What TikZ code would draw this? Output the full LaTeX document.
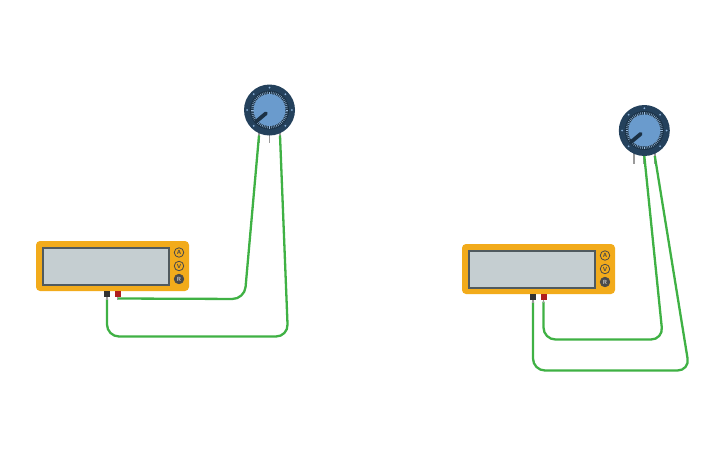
\documentclass[tikz,border=0pt]{standalone}
\usepackage{tikz}
\definecolor{bodyc}{HTML}{F2AB1B}
\definecolor{screenc}{HTML}{C5CED1}
\definecolor{framec}{HTML}{505A5F}
\definecolor{knobc}{HTML}{6A9BCD}
\definecolor{ringc}{HTML}{24415C}
\definecolor{wirec}{HTML}{3FB144}
\definecolor{pinc}{HTML}{9A9A9A}
\definecolor{redc}{HTML}{B01E1E}
\definecolor{btnc}{HTML}{4A4A4A}
\tikzset{
  wire/.style = {draw = wirec, line width = 2.3pt, rounded corners = 12pt},
  pin/.style = {draw = pinc, line width = 1.8pt},
  keyb/.style = {circle, draw = btnc, line width = 0.8pt, minimum size = 9.5pt, inner sep = 0pt, text = btnc, font = \sffamily\bfseries\fontsize{6}{6}\selectfont},
  plug/.style = {minimum width = 6pt, minimum height = 6pt, inner sep = 0pt},
  pics/meter/.style = {code = {
    \node[fill = bodyc, rounded corners = 4pt, minimum width = 153pt, minimum height = 50pt, inner sep = 0pt] (-body) at (76.5,25) {};
    \node[fill = screenc, draw = framec, line width = 2pt, minimum width = 126pt, minimum height = 37pt, inner sep = 0pt] (-screen) at (69.5,25) {};
    \node[keyb] (-a) at (143,11.5) {A};
    \node[keyb] (-v) at (143,25) {V};
    \node[keyb, fill = btnc, text = white!80!black] (-r) at (143,38) {R};
    \coordinate (-neg) at (71,57.5);
    \coordinate (-pos) at (81.5,57.5);
    \draw[pin] (71,54) -- (71,59);
    \draw[pin] (81.5,54) -- (81.5,59);
    \node[plug, fill = black!80] (-negplug) at (71,53) {};
    \node[plug, fill = redc] (-posplug) at (81.5,53) {};
  }},
  pics/pot/.style = {code = {
    \draw[pin] (-10.5,20) -- (-10.5,33);
    \draw[pin] (0,20) -- (0,33);
    \draw[pin] (10.5,20) -- (10.5,33);
    \coordinate (-a) at (-10.5,25.5);
    \coordinate (-b) at (0,25.5);
    \coordinate (-c) at (10.5,25.5);
    \fill[ringc] (0,0) circle (25.5);
    \fill[ringc!75!black] (0,0) circle (19.5);
    \foreach \a in {0,6,...,354}
      \draw[knobc!70!white, line width = 0.5pt] (\a:16) -- (\a:18.5);
    \fill[knobc] (0,0) circle (16);
    \foreach \a in {-90,-45,0,45,135,180,225}
      \fill[knobc!80!white] (\a:22.3) circle (1);
    \draw[ringc!75!black, line width = 3.8pt, line cap = round] (-3.5,3.3) -- (-13.5,11.7);
  }}
}
\begin{document}
\begin{tikzpicture}[x = 1pt, y = -1pt]
  \useasboundingbox (0,0) rectangle (725,453);
  % potentiometers first, the leads lie over their pins
  \pic (potl) at (269.5,110) {pot};
  \pic (potr) at (644.3,130.5) {pot};
  % named here so the leads can refer to them, drawn on top below
  \coordinate (ml-neg) at (107,298.5);
  \coordinate (ml-pos) at (117.5,298.5);
  \coordinate (mr-neg) at (533,301.5);
  \coordinate (mr-pos) at (543.5,301.5);
  \path[wire] (potl-a) -- (244.5,299) -- (ml-pos);
  \path[wire] (potl-c) -- (288,336.5) -- (107,336.5) -- (ml-neg);
  \path[wire] (potr-b) -- (663,339.5) -- (543.5,339.5) -- (mr-pos);
  \path[wire] (potr-c) -- (689.5,370.5) -- (533,370.5) -- (mr-neg);
  \pic (ml) at (36,241) {meter};
  \pic (mr) at (462,244) {meter};
\end{tikzpicture}
\end{document}
